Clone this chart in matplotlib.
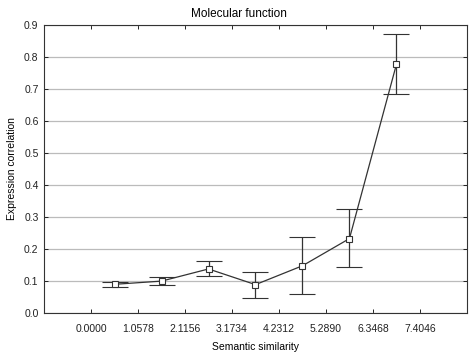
import numpy as np
import matplotlib
matplotlib.use('Agg')
import matplotlib.pyplot as plt

plt.rcParams['font.family'] = ['Liberation Sans', 'DejaVu Sans']

# tick positions on the semantic similarity axis
step = 1.0578
tick_labels = ['0.0000', '1.0578', '2.1156', '3.1734', '4.2312', '5.2890', '6.3468', '7.4046']
tick_values = [0.0, 1.0578, 2.1156, 3.1734, 4.2312, 5.2890, 6.3468, 7.4046]

# bin centres and mean expression correlation with interval bounds
bin_centres = [0.5289, 1.5867, 2.6445, 3.7023, 4.7601, 5.8179, 6.8757]
means = [0.089, 0.099, 0.137, 0.088, 0.147, 0.232, 0.777]
upper = [0.096, 0.113, 0.162, 0.129, 0.237, 0.324, 0.873]
lower = [0.082, 0.087, 0.115, 0.047, 0.058, 0.142, 0.683]

fig = plt.figure(figsize=(4.74, 3.53), dpi=100)
ax = fig.add_axes([0.093, 0.114, 0.892, 0.815])

means_a = np.array(means)
yerr = [means_a - np.array(lower), np.array(upper) - means_a]
ax.errorbar(bin_centres, means, yerr=yerr, color='#333333', lw=0.9,
            elinewidth=0.9, capsize=9.5, capthick=0.9,
            marker='s', markersize=4.5, markerfacecolor='white',
            markeredgecolor='#333333', markeredgewidth=0.8, zorder=3)

ax.set_xlim(tick_values[0] - step, tick_values[-1] + step)
ax.set_ylim(0, 0.9)
ax.set_xticks(tick_values)
ax.set_xticklabels(tick_labels)
ax.set_yticks(np.arange(0, 0.91, 0.1))
ax.set_yticklabels([f'{v:.1f}' for v in np.arange(0, 0.91, 0.1)])
ax.yaxis.grid(True, color='#bbbbbb', lw=0.9)
ax.set_axisbelow(True)
ax.tick_params(direction='in', top=True, right=True, labelsize=7.5,
               length=3, width=0.7, colors='#222222', pad=8)
ax.tick_params(axis='y', pad=4)
for sp in ax.spines.values():
    sp.set_linewidth(0.8)
    sp.set_color('#333333')

ax.set_title('Molecular function', fontsize=8.5, pad=6, x=0.461)
ax.set_xlabel('Semantic similarity', fontsize=7.5, labelpad=6)
ax.set_ylabel('Expression correlation', fontsize=7.5, labelpad=5)

fig.savefig('out.png', dpi=100)
